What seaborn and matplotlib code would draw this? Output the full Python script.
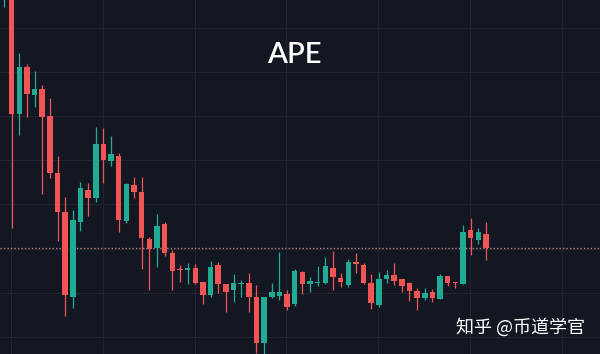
import numpy as np
import pandas as pd
import seaborn as sns
import matplotlib.pyplot as plt

# APE candles (arbitrary price units)
abertura = [364, 394, 240, 287, 259, 265, 238, 181, 142, 57,
            132, 164, 156, 210, 193, 198, 133, 169, 162, 115,
            106, 130, 101, 85, 84, 86, 72, 59, 89, 70,
            64, 70, 71, 57, 11, 57, 58, 60, 50, 82,
            70, 71, 71, 86, 76, 69, 92, 89, 71, 49,
            75, 79, 75, 71, 63, 56, 62, 55, 78, 72,
            70, 124, 114, 120]
fechamento = [394, 240, 287, 260, 265, 237, 181, 142, 59, 134,
              166, 156, 210, 194, 200, 134, 170, 162, 116, 105,
              128, 101, 83, 84, 86, 71, 59, 87, 70, 62,
              71, 71, 57, 11, 57, 62, 62, 47, 83, 70,
              73, 72, 88, 77, 72, 92, 90, 71, 51, 75,
              79, 73, 68, 63, 56, 61, 56, 78, 71, 71,
              122, 116, 122, 106]
maxima = [404, 404, 301, 290, 283, 269, 256, 198, 157, 144,
          172, 171, 227, 226, 218, 201, 171, 177, 177, 117,
          140, 132, 104, 89, 91, 90, 72, 93, 92, 70,
          80, 74, 81, 69, 57, 71, 102, 64, 85, 83,
          77, 88, 97, 103, 81, 95, 101, 91, 80, 82,
          84, 91, 75, 72, 66, 66, 65, 80, 78, 72,
          129, 136, 126, 132]
minimas = [347, 126, 219, 237, 247, 160, 176, 113, 38, 46,
           123, 138, 152, 171, 188, 122, 131, 156, 85, 64,
           87, 98, 64, 72, 70, 70, 50, 57, 61, 42,
           52, 57, 42, 1, -2, 56, 54, 44, 48, 60,
           62, 68, 70, 64, 67, 67, 81, 70, 45, 47,
           71, 69, 62, 53, 44, 54, 52, 55, 68, 66,
           70, 99, 110, 94]

df = pd.DataFrame({'open': abertura, 'close': fechamento,
                   'high': maxima, 'low': minimas})
df['x'] = np.arange(len(df))
df['sobe'] = df['close'] >= df['open']

fundo = '#131722'
verde = '#22ab94'
vermelho = '#f05454'

sns.set_theme(style='dark', rc={'axes.facecolor': fundo, 'figure.facecolor': fundo,
                                'grid.color': '#20242f', 'grid.linewidth': 0.8})
plt.rcParams['font.family'] = ['Lato', 'Noto Sans CJK SC', 'DejaVu Sans']

fig = plt.figure(figsize=(6, 3.54), dpi=100)
ax = fig.add_axes([0, 0, 1, 1])

cores = np.where(df['sobe'], verde, vermelho)

# pavios
ax.vlines(df['x'], df['low'], df['high'], colors=cores, linewidth=0.9, zorder=2)

# corpos
base = df[['open', 'close']].min(axis=1)
altura = (df['close'] - df['open']).abs().clip(lower=1.5)
ax.bar(df['x'], altura, bottom=base, width=0.72, color=cores, linewidth=0, zorder=3)

# linha do ultimo preco
ax.axhline(df['close'].iloc[-1], color='#b07d82', linestyle=(0, (1, 1.5)), linewidth=1.0, zorder=1)

ax.set_xlim(-0.52, 77.9)
ax.set_ylim(0, 354)
ax.set_xticks(0.92 + 12 * np.arange(7))
ax.set_yticks(17 + 44.2 * np.arange(8))
ax.set_xticklabels([])
ax.set_yticklabels([])
ax.tick_params(length=0)
ax.grid(True)
sns.despine(ax=ax, left=True, bottom=True)

fig.text(0.49, 1 - 55 / 354, 'APE', ha='center', va='center', fontsize=21,
         color='white', fontweight='semibold', family=['Lato', 'DejaVu Sans'])
fig.text(585 / 600, 1 - 327 / 354, '知乎 @币道学官', ha='right', va='center', fontsize=13,
         color='white', fontweight='medium', family=['Noto Sans CJK SC', 'DejaVu Sans'])

fig.savefig('out.png', dpi=100, facecolor=fundo)
